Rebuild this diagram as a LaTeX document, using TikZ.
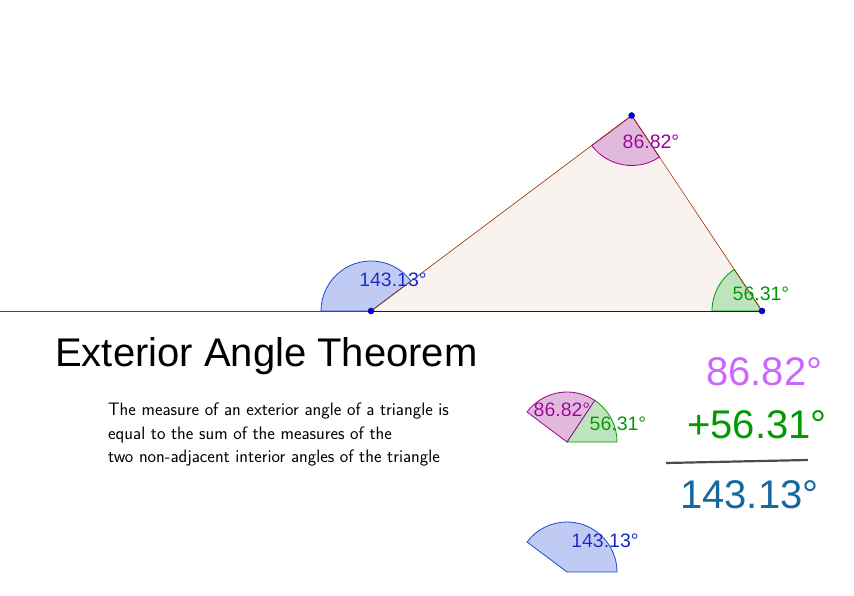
\documentclass[tikz,border=0pt]{standalone}
\usepackage{fontspec}
\setmainfont{Liberation Sans}
\newfontfamily\lmsans{Latin Modern Sans}
\usepackage[outline]{contour}
\contourlength{1.2pt}
\definecolor{triline}{RGB}{153,51,0}
\definecolor{trifill}{RGB}{249,243,240}
\definecolor{bline}{RGB}{30,70,210}
\definecolor{bfill}{RGB}{191,203,242}
\definecolor{btext}{RGB}{20,40,200}
\definecolor{pline}{RGB}{153,0,153}
\definecolor{pfill}{RGB}{225,185,220}
\definecolor{gline}{RGB}{0,153,0}
\definecolor{gfill}{RGB}{190,228,190}
\definecolor{violet2}{RGB}{204,102,255}
\definecolor{green2}{RGB}{0,153,0}
\definecolor{teal2}{RGB}{21,105,160}
\tikzset{
  sectorb/.style={draw=bline, fill=bfill, line width=0.8pt},
  sectorp/.style={draw=pline, fill=pfill, line width=0.8pt},
  sectorg/.style={draw=gline, fill=gfill, line width=0.8pt},
  anglab/.style={font=\fontsize{19.5}{22}\selectfont, inner sep=0pt},
  bigtxt/.style={font=\fontsize{40}{44}\selectfont, inner sep=0pt, anchor=base west},
  para/.style={font=\lmsans\fontsize{18}{21}\selectfont, inner sep=0pt, anchor=base west},
  vertexdot/.style={circle, fill=blue, draw=black!70!blue, line width=0.4pt, inner sep=0pt, minimum size=6pt}
}
\begin{document}
\begin{tikzpicture}[x=1pt,y=1pt]
\useasboundingbox (0,0) rectangle (854,595);
\coordinate (A) at (371,284);
\coordinate (B) at (762,284);
\coordinate (C) at (631.7,479.5);
\coordinate (L) at (0,284);
\coordinate (D) at (567,153);
\coordinate (E) at (567,23);
% triangle fill
\fill[trifill] (A) -- (B) -- (C) -- cycle;
% sectors on triangle
\draw[sectorb] (A) -- ++(36.87:50) arc[start angle=36.87, end angle=180, radius=50] -- cycle;
\draw[sectorp] (C) -- ++(216.87:50) arc[start angle=216.87, end angle=303.69, radius=50] -- cycle;
\draw[sectorg] (B) -- ++(123.69:50) arc[start angle=123.69, end angle=180, radius=50] -- cycle;
% lines
\draw[black!70, line width=0.8pt] (L) -- (A);
\draw[triline, line width=0.6pt] (A) -- (C) -- (B);
\draw[black!60!triline, line width=0.9pt] (A) -- (B);
% labels on triangle
\node[anglab, text=btext] (la) at (393,315) {\contour{white}{143.13°}};
\node[anglab, text=pline] (lc) at (651,453) {\contour{white}{86.82°}};
\node[anglab, text=gline] (lb) at (761,301) {\contour{white}{56.31°}};
% points
\node[vertexdot] (pA) at (A) {};
\node[vertexdot] (pB) at (B) {};
\node[vertexdot] (pC) at (C) {};
% title and paragraph
\node[font=\fontsize{40}{46}\selectfont, inner sep=0pt, anchor=base west] (title) at (55,229) {Exterior Angle Theorem};
\node[para] (p1) at (108,179) {The measure of an exterior angle of a triangle is};
\node[para] (p2) at (108,156) {equal to the sum of the measures of the};
\node[para] (p3) at (108,133) {two non-adjacent interior angles of the triangle};
% lower sectors
\draw[sectorg] (D) -- ++(0:50) arc[start angle=0, end angle=56.31, radius=50] -- cycle;
\draw[sectorp] (D) -- ++(56.31:50) arc[start angle=56.31, end angle=143.13, radius=50] -- cycle;
\node[anglab, text=pline] (l2c) at (562,185) {\contour{white}{86.82°}};
\node[anglab, text=gline] (l2b) at (618,171) {\contour{white}{56.31°}};
\draw[sectorb] (E) -- ++(0:50) arc[start angle=0, end angle=143.13, radius=50] -- cycle;
\node[anglab, text=btext] (l2a) at (605,54) {\contour{white}{143.13°}};
% sum on right
\node[bigtxt, text=violet2] (s1) at (706,210) {86.82°};
\node[bigtxt, text=green2] (s2) at (687,157) {+56.31°};
\coordinate (r1) at (666,132);
\coordinate (r2) at (808,135);
\draw[black!70, line width=2.2pt] (r1) -- (r2);
\node[bigtxt, text=teal2] (s3) at (680,87) {143.13°};
\end{tikzpicture}
\end{document}
